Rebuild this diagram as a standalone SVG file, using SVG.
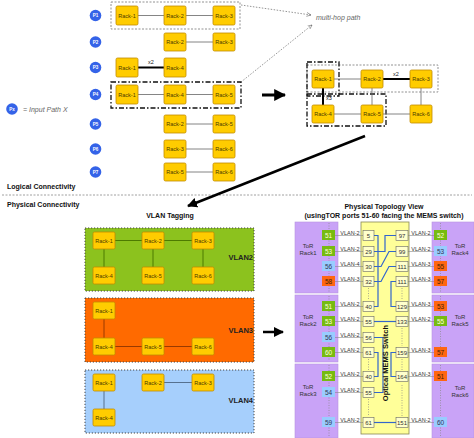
<svg xmlns="http://www.w3.org/2000/svg" width="474" height="438" viewBox="0 0 474 438">
<defs>
<style>
.rk rect{fill:#ffcc00;stroke:#c08c00;stroke-width:.8}
.rk text{font-family:"Liberation Sans",Arial,sans-serif;font-size:5.5px;fill:#4a3a00;text-anchor:middle}
.pc circle{fill:#3463e8}
.pc text{font-family:"Liberation Sans",Arial,sans-serif;font-size:4.5px;font-weight:bold;fill:#fff;text-anchor:middle}
.thin{stroke:#666;stroke-width:.8;fill:none}
.thick{stroke:#000;stroke-width:2;fill:none}
.hdr{font-family:"Liberation Sans",Arial,sans-serif;font-size:7px;font-weight:bold;fill:#111}
.it{font-family:"Liberation Sans",Arial,sans-serif;font-size:7px;font-style:italic;fill:#666}
.sm{font-family:"Liberation Sans",Arial,sans-serif;font-size:5.5px;fill:#222}
.dsh{fill:none;stroke:#777;stroke-width:.8;stroke-dasharray:2 1.5}
.dd{fill:none;stroke:#111;stroke-width:1.3;stroke-dasharray:5 2 1.5 2}
.vb{stroke:#444;stroke-width:1;stroke-dasharray:1.2 1.8}
.vl{font-family:"Liberation Sans",Arial,sans-serif;font-size:7.5px;font-weight:bold;fill:#222;text-anchor:end}
.tor rect.b{fill:#c9a3f7;stroke:#b795e0;stroke-width:.6}
.tor text.n{font-family:"Liberation Sans",Arial,sans-serif;font-size:6px;fill:#333;text-anchor:middle}
.pt text{font-family:"Liberation Sans",Arial,sans-serif;font-size:6.5px;text-anchor:middle}
.g{fill:#77bb11}.b2{fill:#99ccff}.o{fill:#ff6611}
.gt{fill:#ffffdd}.bt{fill:#335}.ot{fill:#442200}
.sp rect{fill:#ffffcc;stroke:#666;stroke-width:.6}
.sp text{font-family:"Liberation Sans",Arial,sans-serif;font-size:6px;fill:#333;text-anchor:middle}
.vt{font-family:"Liberation Sans",Arial,sans-serif;font-size:5.5px;fill:#333;text-anchor:middle}
.vln{stroke:#888;stroke-width:.6}
.wire{stroke:#3366cc;stroke-width:1.2;fill:none}
.dot{stroke:#888;stroke-width:.7;stroke-dasharray:1 1.5}
</style>
<marker id="ah" viewBox="0 0 10 10" refX="9" refY="5" markerWidth="4" markerHeight="4" orient="auto"><path d="M0,0L10,5L0,10z" fill="#000"/></marker>
<marker id="ah2" viewBox="0 0 10 10" refX="9" refY="5" markerWidth="7" markerHeight="7" orient="auto"><path d="M0,1L9,5L0,9" fill="none" stroke="#666" stroke-width="1.2"/></marker>
</defs>
<rect width="474" height="438" fill="#fff"/>

<!-- section labels -->
<text class="hdr" x="7" y="189">Logical Connectivity</text>
<line x1="2" y1="195" x2="472" y2="195" stroke="#888" stroke-width=".8" stroke-dasharray="2 1.5"/>
<text class="hdr" x="7" y="207">Physical Connectivity</text>
<text class="hdr" x="170" y="218" text-anchor="middle">VLAN Tagging</text>
<text class="hdr" x="384" y="209" text-anchor="middle">Physical Topology View</text>
<text class="hdr" x="384" y="218" text-anchor="middle">(usingTOR ports 51-60 facing the MEMS switch)</text>

<!-- path labels -->
<g id="legend" class="pc"><circle cx="12" cy="109" r="5.8"/><text x="12" y="110.7">Px</text></g>
<text class="it" x="23" y="111.5">= Input Path X</text>
<g id="P1" class="pc"><circle cx="95.5" cy="15.5" r="5.8"/><text x="95.5" y="17.2">P1</text></g>
<g id="P2" class="pc"><circle cx="95.5" cy="42" r="5.8"/><text x="95.5" y="43.7">P2</text></g>
<g id="P3" class="pc"><circle cx="95.5" cy="67.5" r="5.8"/><text x="95.5" y="69.2">P3</text></g>
<g id="P4" class="pc"><circle cx="95.5" cy="94.5" r="5.8"/><text x="95.5" y="96.2">P4</text></g>
<g id="P5" class="pc"><circle cx="95.5" cy="124" r="5.8"/><text x="95.5" y="125.7">P5</text></g>
<g id="P6" class="pc"><circle cx="95.5" cy="149" r="5.8"/><text x="95.5" y="150.7">P6</text></g>
<g id="P7" class="pc"><circle cx="95.5" cy="172" r="5.8"/><text x="95.5" y="173.7">P7</text></g>

<!-- group boxes logical -->
<rect class="dsh" x="111" y="2" width="129" height="27"/>
<rect class="dd" x="111" y="82" width="130" height="26"/>
<rect class="dsh" x="307" y="65" width="131" height="27"/>
<rect class="dd" x="307" y="62" width="32" height="34"/>
<rect class="dd" x="307" y="94" width="79" height="32"/>

<!-- VLAN areas -->
<rect x="85" y="228" width="169" height="63" fill="#8cc21e" stroke="#444" stroke-width="1" stroke-dasharray="1.2 1.8"/>
<rect x="85" y="298" width="169" height="64" fill="#ff6a00" stroke="#444" stroke-width="1" stroke-dasharray="1.2 1.8"/>
<rect x="85" y="370" width="169" height="63" fill="#a6cffc" stroke="#444" stroke-width="1" stroke-dasharray="1.2 1.8"/>
<text class="vl" x="253" y="260">VLAN2</text>
<text class="vl" x="253" y="333">VLAN3</text>
<text class="vl" x="253" y="403">VLAN4</text>

<g id="connectors">
<!-- logical -->
<line class="thin" x1="138" y1="15.5" x2="164" y2="15.5"/>
<line class="thin" x1="186" y1="15.5" x2="213" y2="15.5"/>
<line class="thin" x1="186" y1="42" x2="213" y2="42"/>
<line class="thick" x1="138" y1="67.5" x2="164" y2="67.5"/>
<text class="sm" x="148" y="64">x2</text>
<line class="thin" x1="138" y1="94.5" x2="164" y2="94.5"/>
<line class="thin" x1="186" y1="94.5" x2="213" y2="94.5"/>
<line class="thin" x1="186" y1="124" x2="213" y2="124"/>
<line class="thin" x1="186" y1="149" x2="213" y2="149"/>
<line class="thin" x1="186" y1="172" x2="213" y2="172"/>
<!-- multi-hop -->
<line x1="241" y1="5" x2="311" y2="15" stroke="#666" stroke-width=".7" stroke-dasharray="1.5 1.5" marker-end="url(#ah2)"/>
<line x1="241" y1="82" x2="312" y2="25" stroke="#666" stroke-width=".7" stroke-dasharray="1.5 1.5" marker-end="url(#ah2)"/>
<!-- big arrows -->
<line x1="262" y1="95" x2="285" y2="95" stroke="#000" stroke-width="3" marker-end="url(#ah)"/>
<line x1="365" y1="136" x2="188" y2="206" stroke="#000" stroke-width="2.5" marker-end="url(#ah)"/>
<line x1="263" y1="332" x2="283" y2="332" stroke="#000" stroke-width="2.5" marker-end="url(#ah)"/>
<!-- right network -->
<line class="thin" x1="334" y1="79" x2="361" y2="79"/>
<line class="thick" x1="383" y1="79" x2="410" y2="79"/>
<text class="sm" x="393" y="76">x2</text>
<line class="thick" x1="323" y1="88" x2="323" y2="105"/>
<text class="sm" x="326" y="100">x3</text>
<line class="thin" x1="372" y1="88" x2="372" y2="105"/>
<line class="thin" x1="421" y1="88" x2="421" y2="105"/>
<line class="thin" x1="334" y1="114" x2="361" y2="114"/>
<line class="thin" x1="383" y1="114" x2="410" y2="114"/>
<!-- VLAN2 -->
<g stroke="#4d7a00" stroke-width="1">
<line x1="115" y1="240.5" x2="142" y2="240.5"/><line x1="164" y1="240.5" x2="192" y2="240.5"/>
<line x1="104" y1="249" x2="104" y2="267"/><line x1="153" y1="249" x2="153" y2="267"/><line x1="203" y1="249" x2="203" y2="267"/>
</g>
<g stroke="#9a3a00" stroke-width="1">
<line x1="104" y1="319" x2="104" y2="338"/><line x1="115" y1="346.5" x2="142" y2="346.5"/><line x1="164" y1="346.5" x2="192" y2="346.5"/>
</g>
<g stroke="#56718f" stroke-width="1">
<line x1="104" y1="391" x2="104" y2="409"/><line x1="164" y1="382.5" x2="192" y2="382.5"/>
</g>
</g>

<!-- logical racks -->
<g id="L1-r1" class="rk"><rect x="116" y="6" width="22" height="19" rx="1.5"/><text x="127" y="17.5">Rack-1</text></g>
<g id="L1-r2" class="rk"><rect x="164" y="6" width="22" height="19" rx="1.5"/><text x="175" y="17.5">Rack-2</text></g>
<g id="L1-r3" class="rk"><rect x="213" y="6" width="22" height="19" rx="1.5"/><text x="224" y="17.5">Rack-3</text></g>
<g id="L2-r2" class="rk"><rect x="164" y="33" width="22" height="18" rx="1.5"/><text x="175" y="44">Rack-2</text></g>
<g id="L2-r3" class="rk"><rect x="213" y="33" width="22" height="18" rx="1.5"/><text x="224" y="44">Rack-3</text></g>
<g id="L3-r1" class="rk"><rect x="116" y="58" width="22" height="19" rx="1.5"/><text x="127" y="69.5">Rack-1</text></g>
<g id="L3-r4" class="rk"><rect x="164" y="58" width="22" height="19" rx="1.5"/><text x="175" y="69.5">Rack-4</text></g>
<g id="L4-r1" class="rk"><rect x="116" y="85" width="22" height="19" rx="1.5"/><text x="127" y="96.5">Rack-1</text></g>
<g id="L4-r4" class="rk"><rect x="164" y="85" width="22" height="19" rx="1.5"/><text x="175" y="96.5">Rack-4</text></g>
<g id="L4-r5" class="rk"><rect x="213" y="85" width="22" height="19" rx="1.5"/><text x="224" y="96.5">Rack-5</text></g>
<g id="L5-r2" class="rk"><rect x="164" y="115" width="22" height="18" rx="1.5"/><text x="175" y="126">Rack-2</text></g>
<g id="L5-r5" class="rk"><rect x="213" y="115" width="22" height="18" rx="1.5"/><text x="224" y="126">Rack-5</text></g>
<g id="L6-r3" class="rk"><rect x="164" y="140" width="22" height="18" rx="1.5"/><text x="175" y="151">Rack-3</text></g>
<g id="L6-r6" class="rk"><rect x="213" y="140" width="22" height="18" rx="1.5"/><text x="224" y="151">Rack-6</text></g>
<g id="L7-r5" class="rk"><rect x="164" y="163" width="22" height="18" rx="1.5"/><text x="175" y="174">Rack-5</text></g>
<g id="L7-r6" class="rk"><rect x="213" y="163" width="22" height="18" rx="1.5"/><text x="224" y="174">Rack-6</text></g>
<text class="it" x="316" y="19.5">multi-hop path</text>

<!-- merged network -->
<g id="N-r1" class="rk"><rect x="312" y="70" width="22" height="18" rx="1.5"/><text x="323" y="81">Rack-1</text></g>
<g id="N-r2" class="rk"><rect x="361" y="70" width="22" height="18" rx="1.5"/><text x="372" y="81">Rack-2</text></g>
<g id="N-r3" class="rk"><rect x="410" y="70" width="22" height="18" rx="1.5"/><text x="421" y="81">Rack-3</text></g>
<g id="N-r4" class="rk"><rect x="312" y="105" width="22" height="18" rx="1.5"/><text x="323" y="116">Rack-4</text></g>
<g id="N-r5" class="rk"><rect x="361" y="105" width="22" height="18" rx="1.5"/><text x="372" y="116">Rack-5</text></g>
<g id="N-r6" class="rk"><rect x="410" y="105" width="22" height="18" rx="1.5"/><text x="421" y="116">Rack-6</text></g>

<!-- VLAN racks -->
<g id="V2-r1" class="rk"><rect x="93" y="232" width="22" height="17" rx="1.5"/><text x="104" y="242.5">Rack-1</text></g>
<g id="V2-r2" class="rk"><rect x="142" y="232" width="22" height="17" rx="1.5"/><text x="153" y="242.5">Rack-2</text></g>
<g id="V2-r3" class="rk"><rect x="192" y="232" width="22" height="17" rx="1.5"/><text x="203" y="242.5">Rack-3</text></g>
<g id="V2-r4" class="rk"><rect x="93" y="267" width="22" height="17" rx="1.5"/><text x="104" y="277.5">Rack-4</text></g>
<g id="V2-r5" class="rk"><rect x="142" y="267" width="22" height="17" rx="1.5"/><text x="153" y="277.5">Rack-5</text></g>
<g id="V2-r6" class="rk"><rect x="192" y="267" width="22" height="17" rx="1.5"/><text x="203" y="277.5">Rack-6</text></g>
<g id="V3-r1" class="rk"><rect x="93" y="302" width="22" height="17" rx="1.5"/><text x="104" y="312.5">Rack-1</text></g>
<g id="V3-r4" class="rk"><rect x="93" y="338" width="22" height="17" rx="1.5"/><text x="104" y="348.5">Rack-4</text></g>
<g id="V3-r5" class="rk"><rect x="142" y="338" width="22" height="17" rx="1.5"/><text x="153" y="348.5">Rack-5</text></g>
<g id="V3-r6" class="rk"><rect x="192" y="338" width="22" height="17" rx="1.5"/><text x="203" y="348.5">Rack-6</text></g>
<g id="V4-r1" class="rk"><rect x="93" y="374" width="22" height="17" rx="1.5"/><text x="104" y="384.5">Rack-1</text></g>
<g id="V4-r2" class="rk"><rect x="142" y="374" width="22" height="17" rx="1.5"/><text x="153" y="384.5">Rack-2</text></g>
<g id="V4-r3" class="rk"><rect x="192" y="374" width="22" height="17" rx="1.5"/><text x="203" y="384.5">Rack-3</text></g>
<g id="V4-r4" class="rk"><rect x="93" y="409" width="22" height="17" rx="1.5"/><text x="104" y="419.5">Rack-4</text></g>

<!-- switch body -->
<g id="switch">
<rect x="361" y="222" width="48" height="212" fill="#ffff99" stroke="#888855" stroke-width=".8"/>
<line class="dot" x1="368.5" y1="288" x2="368.5" y2="300"/>
<line class="dot" x1="368.5" y1="359" x2="368.5" y2="370"/>
<line class="dot" x1="368.5" y1="399" x2="368.5" y2="416"/>
<line class="dot" x1="402" y1="288" x2="402" y2="300"/>
<line class="dot" x1="402" y1="328" x2="402" y2="346"/>
<line class="dot" x1="402" y1="359" x2="402" y2="370"/>
<line class="dot" x1="402" y1="385" x2="402" y2="416"/>
</g>

<!-- ToR racks -->
<g id="tor1" class="tor"><rect class="b" x="295" y="222" width="43" height="71"/><line class="dot" x1="329" y1="223" x2="329" y2="292"/><text class="n" x="308" y="248">ToR</text><text class="n" x="308" y="255">Rack1</text></g>
<g id="tor2" class="tor"><rect class="b" x="295" y="295" width="43" height="67"/><line class="dot" x1="329" y1="296" x2="329" y2="361"/><text class="n" x="308" y="319">ToR</text><text class="n" x="308" y="326">Rack2</text></g>
<g id="tor3" class="tor"><rect class="b" x="295" y="364" width="43" height="74"/><line class="dot" x1="329" y1="365" x2="329" y2="437"/><text class="n" x="308" y="389">ToR</text><text class="n" x="308" y="396">Rack3</text></g>
<g id="tor4" class="tor"><rect class="b" x="432" y="222" width="42" height="71"/><line class="dot" x1="440.5" y1="223" x2="440.5" y2="292"/><text class="n" x="460" y="248">ToR</text><text class="n" x="460" y="255">Rack4</text></g>
<g id="tor5" class="tor"><rect class="b" x="432" y="295" width="42" height="67"/><line class="dot" x1="440.5" y1="296" x2="440.5" y2="361"/><text class="n" x="460" y="319">ToR</text><text class="n" x="460" y="326">Rack5</text></g>
<g id="tor6" class="tor"><rect class="b" x="432" y="364" width="42" height="74"/><line class="dot" x1="440.5" y1="365" x2="440.5" y2="437"/><text class="n" x="460" y="390">ToR</text><text class="n" x="460" y="397">Rack6</text></g>

<!-- VLAN links port to switch -->
<g id="vlan-links">
<g class="vln">
<line x1="335" y1="235.5" x2="363" y2="235.5"/><line x1="335" y1="251.5" x2="363" y2="251.5"/><line x1="335" y1="266.5" x2="363" y2="266.5"/><line x1="335" y1="281.5" x2="363" y2="281.5"/>
<line x1="335" y1="306.5" x2="363" y2="306.5"/><line x1="335" y1="321.5" x2="363" y2="321.5"/><line x1="335" y1="337.5" x2="363" y2="337.5"/><line x1="335" y1="352.5" x2="363" y2="352.5"/>
<line x1="335" y1="376.5" x2="363" y2="376.5"/><line x1="335" y1="392.5" x2="363" y2="392.5"/><line x1="335" y1="422.5" x2="363" y2="422.5"/>
<line x1="408" y1="235.5" x2="434" y2="235.5"/><line x1="408" y1="251.5" x2="434" y2="251.5"/><line x1="408" y1="266.5" x2="434" y2="266.5"/><line x1="408" y1="281.5" x2="434" y2="281.5"/>
<line x1="408" y1="306.5" x2="434" y2="306.5"/><line x1="408" y1="321.5" x2="434" y2="321.5"/><line x1="408" y1="352.5" x2="434" y2="352.5"/>
<line x1="408" y1="376.5" x2="434" y2="376.5"/><line x1="408" y1="422.5" x2="434" y2="422.5"/>
</g>
<text class="vt" x="350" y="234.5">VLAN-2</text><text class="vt" x="350" y="250.5">VLAN-2</text><text class="vt" x="350" y="265.5">VLAN-4</text><text class="vt" x="350" y="280.5">VLAN-3</text>
<text class="vt" x="350" y="305.5">VLAN-2</text><text class="vt" x="350" y="320.5">VLAN-2</text><text class="vt" x="350" y="336.5">VLAN-2</text><text class="vt" x="350" y="351.5">VLAN-2</text>
<text class="vt" x="350" y="375.5">VLAN-2</text><text class="vt" x="350" y="391.5">VLAN-2</text><text class="vt" x="350" y="421.5">VLAN-2</text>
<text class="vt" x="421" y="234.5">VLAN-2</text><text class="vt" x="421" y="250.5">VLAN-2</text><text class="vt" x="421" y="265.5">VLAN-3</text><text class="vt" x="421" y="280.5">VLAN-3</text>
<text class="vt" x="421" y="305.5">VLAN-3</text><text class="vt" x="421" y="320.5">VLAN-2</text><text class="vt" x="421" y="351.5">VLAN-3</text>
<text class="vt" x="421" y="375.5">VLAN-3</text><text class="vt" x="421" y="421.5">VLAN-2</text>
</g>

<!-- ToR ports -->
<g id="tor-ports" class="pt">
<rect class="g" x="322" y="230" width="13" height="10"/><text class="gt" x="328.5" y="237.5">51</text>
<rect class="g" x="322" y="246" width="13" height="10"/><text class="gt" x="328.5" y="253.5">53</text>
<rect class="b2" x="322" y="261" width="13" height="10"/><text class="bt" x="328.5" y="268.5">56</text>
<rect class="o" x="322" y="276" width="13" height="10"/><text class="ot" x="328.5" y="283.5">58</text>
<rect class="g" x="322" y="301" width="13" height="10"/><text class="gt" x="328.5" y="308.5">51</text>
<rect class="g" x="322" y="316" width="13" height="10"/><text class="gt" x="328.5" y="323.5">53</text>
<rect class="b2" x="322" y="332" width="13" height="10"/><text class="bt" x="328.5" y="339.5">56</text>
<rect class="g" x="322" y="347" width="13" height="10"/><text class="gt" x="328.5" y="354.5">60</text>
<rect class="g" x="322" y="371" width="13" height="10"/><text class="gt" x="328.5" y="378.5">52</text>
<rect class="b2" x="322" y="387" width="13" height="10"/><text class="bt" x="328.5" y="394.5">54</text>
<rect class="b2" x="322" y="417" width="13" height="10"/><text class="bt" x="328.5" y="424.5">59</text>
<rect class="g" x="434" y="230" width="13" height="10"/><text class="gt" x="440.5" y="237.5">52</text>
<rect class="b2" x="434" y="246" width="13" height="10"/><text class="bt" x="440.5" y="253.5">53</text>
<rect class="o" x="434" y="261" width="13" height="10"/><text class="ot" x="440.5" y="268.5">55</text>
<rect class="o" x="434" y="276" width="13" height="10"/><text class="ot" x="440.5" y="283.5">57</text>
<rect class="o" x="434" y="301" width="13" height="10"/><text class="ot" x="440.5" y="308.5">53</text>
<rect class="g" x="434" y="316" width="13" height="10"/><text class="gt" x="440.5" y="323.5">55</text>
<rect class="o" x="434" y="347" width="13" height="10"/><text class="ot" x="440.5" y="354.5">57</text>
<rect class="o" x="434" y="371" width="13" height="10"/><text class="ot" x="440.5" y="378.5">51</text>
<rect class="b2" x="434" y="417" width="13" height="10"/><text class="bt" x="440.5" y="424.5">60</text>
</g>

<!-- switch wiring -->
<g id="mems-wires">
<path class="wire" d="M374,235.5H378V306.5H374"/>
<path class="wire" d="M374,251.5H385V235.5H396"/>
<path class="wire" d="M374,266.5H381L389,251.5H396"/>
<path class="wire" d="M374,281.5H381L389,266.5H396"/>
<path class="wire" d="M396,281.5H391V306.5H396"/>
<path class="wire" d="M374,321.5H396"/>
<path class="wire" d="M374,337.5H383V392.5H374"/>
<path class="wire" d="M374,352.5H378V376.5H374"/>
<path class="wire" d="M396,352.5H391V376.5H396"/>
<path class="wire" d="M374,422.5H396"/>
</g>
<text x="388" y="363" transform="rotate(-90 388 363)" text-anchor="middle" font-family="Liberation Sans, Arial, sans-serif" font-size="7.5" font-weight="bold" fill="#111">Optical MEMS Switch</text>

<!-- switch ports -->
<g id="switch-ports" class="sp">
<rect x="363" y="230.5" width="11" height="10"/><text x="368.5" y="237.7">5</text>
<rect x="363" y="246.5" width="11" height="10"/><text x="368.5" y="253.7">29</text>
<rect x="363" y="261.5" width="11" height="10"/><text x="368.5" y="268.7">30</text>
<rect x="363" y="276.5" width="11" height="10"/><text x="368.5" y="283.7">32</text>
<rect x="363" y="301.5" width="11" height="10"/><text x="368.5" y="308.7">40</text>
<rect x="363" y="316.5" width="11" height="10"/><text x="368.5" y="323.7">55</text>
<rect x="363" y="332.5" width="11" height="10"/><text x="368.5" y="339.7">56</text>
<rect x="363" y="347.5" width="11" height="10"/><text x="368.5" y="354.7">61</text>
<rect x="363" y="371.5" width="11" height="10"/><text x="368.5" y="378.7">40</text>
<rect x="363" y="387.5" width="11" height="10"/><text x="368.5" y="394.7">55</text>
<rect x="363" y="417.5" width="11" height="10"/><text x="368.5" y="424.7">61</text>
<rect x="396" y="230.5" width="12" height="10"/><text x="402" y="237.7">97</text>
<rect x="396" y="246.5" width="12" height="10"/><text x="402" y="253.7">99</text>
<rect x="396" y="261.5" width="12" height="10"/><text x="402" y="268.7">111</text>
<rect x="396" y="276.5" width="12" height="10"/><text x="402" y="283.7">111</text>
<rect x="396" y="301.5" width="12" height="10"/><text x="402" y="308.7">129</text>
<rect x="396" y="316.5" width="12" height="10"/><text x="402" y="323.7">133</text>
<rect x="396" y="347.5" width="12" height="10"/><text x="402" y="354.7">159</text>
<rect x="396" y="371.5" width="12" height="10"/><text x="402" y="378.7">164</text>
<rect x="396" y="417.5" width="12" height="10"/><text x="402" y="424.7">151</text>
</g>
</svg>
